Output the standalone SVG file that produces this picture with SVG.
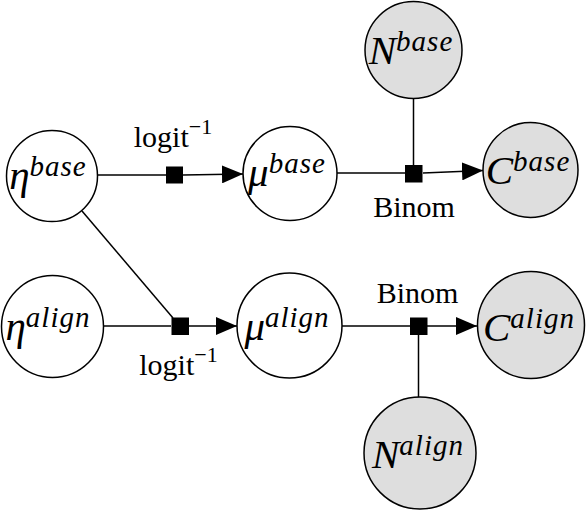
<svg xmlns="http://www.w3.org/2000/svg" width="586" height="513" viewBox="0 0 586 513">
<defs>
<style>
.node{stroke:#000;stroke-width:1.5}
.lat{fill:#fff}
.obs{fill:#dedede}
.math{font-family:"Liberation Serif","DejaVu Serif",serif;font-style:italic;font-size:41px;fill:#000}
.sup{font-size:29px;letter-spacing:1px}
.lbl{font-family:"Liberation Serif","DejaVu Serif",serif;font-size:30px;fill:#000}
.lsup{font-size:22px}
.edge{stroke:#000;stroke-width:1.5;fill:none}
.fac{fill:#000}
</style>
<marker id="arr" markerUnits="userSpaceOnUse" markerWidth="21" markerHeight="18" refX="21" refY="9" orient="auto">
<path d="M0,0 L21,9 L0,18 z" fill="#000"/>
</marker>
</defs>
<rect width="586" height="513" fill="#fff"/>

<g id="connectors">
<line class="edge" x1="98" y1="175" x2="166" y2="175"/>
<line class="edge" x1="183" y1="175" x2="243" y2="174" marker-end="url(#arr)"/>
<line class="edge" x1="337" y1="173" x2="405" y2="173"/>
<line class="edge" x1="413.5" y1="98" x2="413.5" y2="165"/>
<line class="edge" x1="423" y1="173" x2="483" y2="170.5" marker-end="url(#arr)"/>
<line class="edge" x1="82" y1="211" x2="173" y2="318"/>
<line class="edge" x1="104" y1="326" x2="171" y2="326"/>
<line class="edge" x1="189" y1="326" x2="237" y2="326" marker-end="url(#arr)"/>
<line class="edge" x1="342" y1="326" x2="410" y2="326"/>
<line class="edge" x1="418.5" y1="335" x2="418.5" y2="397"/>
<line class="edge" x1="427" y1="326" x2="477" y2="326" marker-end="url(#arr)"/>
</g>

<g id="factor-logit-base">
<rect class="fac" x="166" y="166.5" width="17" height="17"/>
<text class="lbl" x="173" y="147" text-anchor="middle">logit<tspan class="lsup" dy="-13">−1</tspan></text>
</g>
<g id="factor-binom-base">
<rect class="fac" x="405" y="165" width="17.5" height="17.5"/>
<text class="lbl" x="414" y="217" text-anchor="middle">Binom</text>
</g>
<g id="factor-logit-align">
<rect class="fac" x="171.5" y="317.5" width="17.5" height="17.5"/>
<text class="lbl" x="178.5" y="375" text-anchor="middle">logit<tspan class="lsup" dy="-13">−1</tspan></text>
</g>
<g id="factor-binom-align">
<rect class="fac" x="410" y="317.5" width="17.5" height="17.5"/>
<text class="lbl" x="417.5" y="303" text-anchor="middle">Binom</text>
</g>

<g id="eta-base">
<circle class="node lat" cx="52" cy="176" r="45.5"/>
<text class="math" x="48" y="189" text-anchor="middle">η<tspan class="sup" dy="-13">base</tspan></text>
</g>
<g id="mu-base">
<circle class="node lat" cx="290" cy="173.5" r="47"/>
<text class="math" x="287" y="186" text-anchor="middle">μ<tspan class="sup" dy="-13">base</tspan></text>
</g>
<g id="N-base">
<circle class="node obs" cx="413.5" cy="50" r="48.5"/>
<text class="math" x="411" y="64" text-anchor="middle">N<tspan class="sup" dy="-13">base</tspan></text>
</g>
<g id="C-base">
<circle class="node obs" cx="530.5" cy="170" r="47.5"/>
<text class="math" x="528" y="184" text-anchor="middle">C<tspan class="sup" dy="-13">base</tspan></text>
</g>
<g id="eta-align">
<circle class="node lat" cx="52.5" cy="326.5" r="51"/>
<text class="math" x="48" y="340" text-anchor="middle">η<tspan class="sup" dy="-13">align</tspan></text>
</g>
<g id="mu-align">
<circle class="node lat" cx="289.5" cy="325.5" r="52.5"/>
<text class="math" x="287" y="340" text-anchor="middle">μ<tspan class="sup" dy="-13">align</tspan></text>
</g>
<g id="C-align">
<circle class="node obs" cx="531" cy="325" r="53.5"/>
<text class="math" x="529" y="341" text-anchor="middle">C<tspan class="sup" dy="-13">align</tspan></text>
</g>
<g id="N-align">
<circle class="node obs" cx="420" cy="453" r="56"/>
<text class="math" x="418" y="468" text-anchor="middle">N<tspan class="sup" dy="-13">align</tspan></text>
</g>
</svg>
